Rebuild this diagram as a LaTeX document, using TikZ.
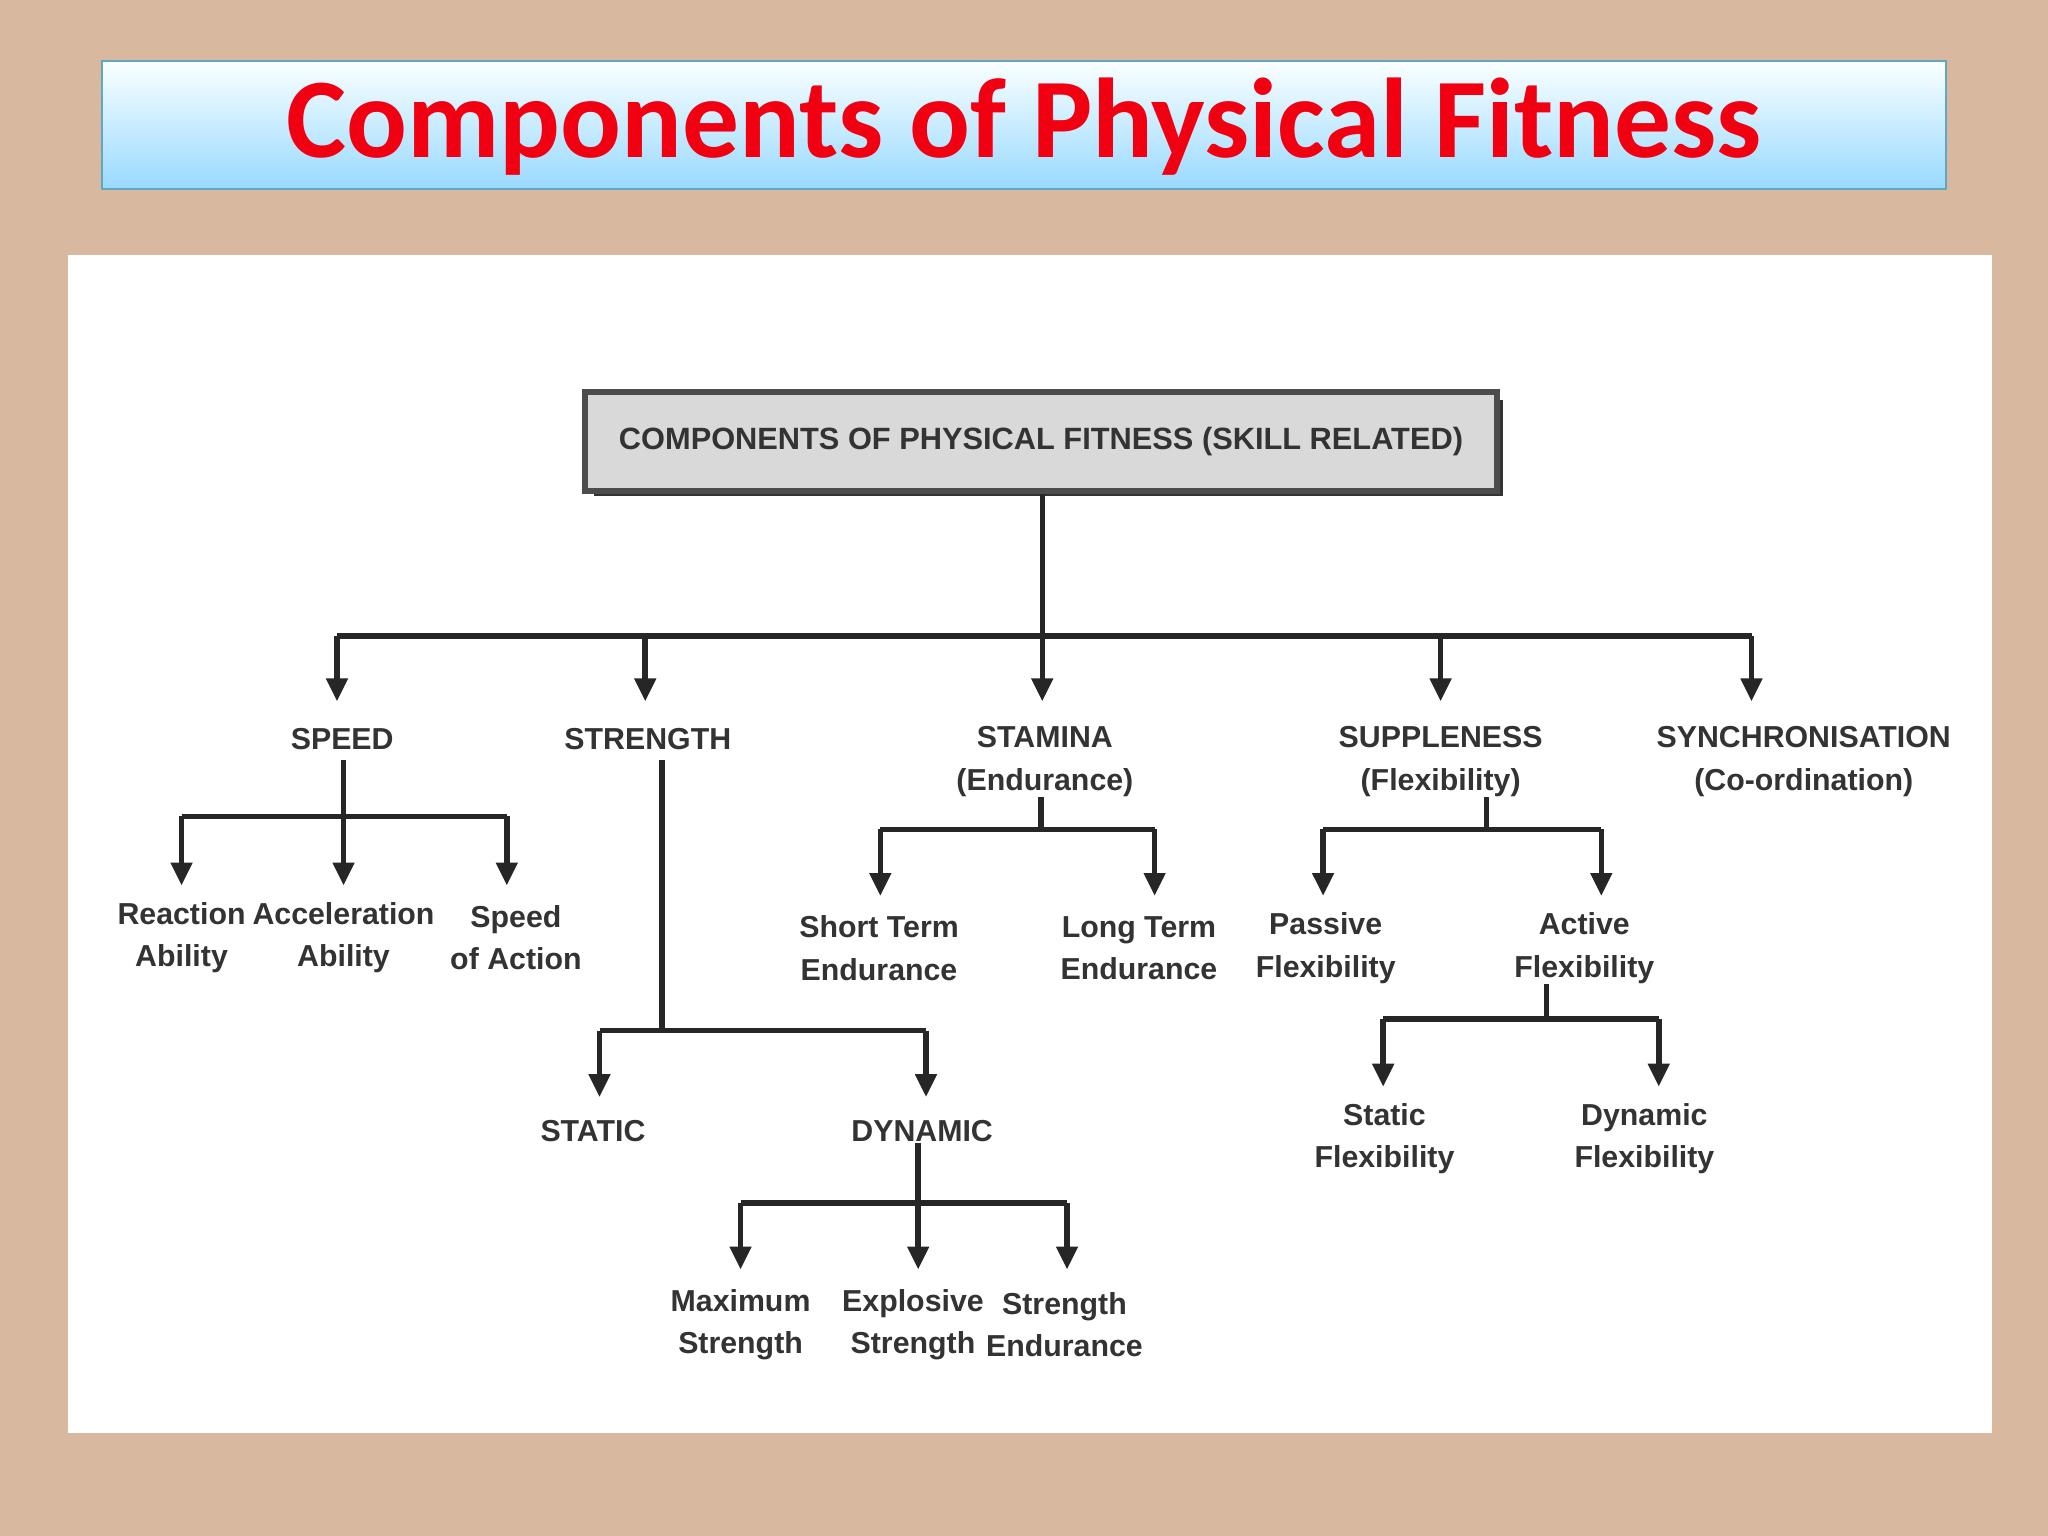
\documentclass[tikz,border=0pt]{standalone}
\usepackage{fontspec}
\setmainfont{Liberation Sans}
\newfontfamily\titlefont{Carlito}
\usetikzlibrary{arrows.meta,shadows}
\definecolor{bgtan}{HTML}{D8B89E}
\definecolor{titlered}{HTML}{F00010}
\tikzset{
 arr/.style={-{Triangle[length=5pt,width=4.5pt]},line width=1.2pt,black!85},
 ln/.style={line width=1.2pt,black!85},
 lab/.style={font=\fontsize{6.6}{9.2}\selectfont\bfseries,align=center,text=black!80,inner sep=0pt},
}
\begin{document}
\begin{tikzpicture}[x=0.01cm,y=-0.01cm]
\fill[bgtan] (0,0) rectangle (1568,1176);
\useasboundingbox (0,0) rectangle (1568,1176);
\shade[top color=white!90!cyan!20,bottom color=cyan!30!white!85!blue,draw=cyan!50!gray] (78,47) rectangle (1490,145);
\node[font=\titlefont\fontsize{24.7}{28}\selectfont\bfseries,text=titlered] (title) at (784,97) {Components of Physical Fitness};
\fill[white] (52,195) rectangle (1525,1097);
% root
\fill[black!80] (455,306) rectangle (1151,380);
\draw[fill=black!15,line width=1.2pt,draw=black!70] (448,300) rectangle (1146,376);
\node[lab,font=\fontsize{6.7}{9}\selectfont\bfseries] (root) at (797,338) {COMPONENTS OF PHYSICAL FITNESS (SKILL RELATED)};
\coordinate (rootb) at (798,378);
\coordinate (bus) at (798,487);
\foreach \n/\x in {a1/258,a2/494,a3/798,a4/1103,a5/1341} \coordinate (\n) at (\x,537);
\draw[ln] (rootb) -- (bus);
\draw[ln] (258,487) coordinate (bl) -- (1341,487) coordinate (br);
\draw[arr] (bl) -- (a1);
\draw[arr] (494,487) -- (a2);
\draw[arr] (bus) -- (a3);
\draw[arr] (1103,487) -- (a4);
\draw[arr] (br) -- (a5);
\node[lab] (speed) at (262,566) {SPEED};
\node[lab] (strength) at (496,566) {STRENGTH};
\node[lab] (stamina) at (800,583) {STAMINA\\(Endurance)};
\node[lab] (supp) at (1103,583) {SUPPLENESS\\(Flexibility)};
\node[lab] (sync) at (1381,583) {SYNCHRONISATION\\(Co-ordination)};
% speed
\draw[ln] (263,582) -- (263,625);
\draw[ln] (139,625) -- (388,625);
\draw[arr] (139,625) -- (139,678);
\draw[arr] (263,625) -- (263,678);
\draw[arr] (388,625) -- (388,678);
\node[lab] (ra) at (139,718) {Reaction\\Ability};
\node[lab] (aa) at (263,718) {Acceleration\\Ability};
\node[lab] (sa) at (395,718) {Speed\\of Action};
% strength
\draw[ln] (507,582) -- (507,789);
\draw[ln] (459,789) -- (709,789);
\draw[arr] (459,789) -- (459,840);
\draw[arr] (709,789) -- (709,840);
\node[lab] (static) at (454,866) {STATIC};
\node[lab] (dyn) at (706,866) {DYNAMIC};
\draw[ln] (dyn.south -| 703,0) -- (703,921);
\draw[ln] (567,921) -- (817,921);
\draw[arr] (567,921) -- (567,972);
\draw[arr] (703,921) -- (703,972);
\draw[arr] (817,921) -- (817,972);
\node[lab] (ms) at (567,1014) {Maximum\\Strength};
\node[lab] (es) at (699,1014) {Explosive\\Strength};
\node[lab] (se) at (815,1014) {Strength\\Endurance};
% stamina
\draw[ln] (stamina.south -| 797,0) -- (797,635);
\draw[ln] (674,635) -- (884,635);
\draw[arr] (674,635) -- (674,686);
\draw[arr] (884,635) -- (884,686);
\node[lab] (ste) at (673,726) {Short Term\\Endurance};
\node[lab] (lte) at (872,726) {Long Term\\Endurance};
% suppleness
\draw[ln] (supp.south -| 1138,0) -- (1138,635);
\draw[ln] (1013,635) -- (1226,635);
\draw[arr] (1013,635) -- (1013,686);
\draw[arr] (1226,635) -- (1226,686);
\node[lab] (pf) at (1015,726) {Passive\\Flexibility};
\node[lab] (af) at (1213,726) {Active\\Flexibility};
\draw[ln] (af.south -| 1184,0) -- (1184,780);
\draw[ln] (1059,780) -- (1270,780);
\draw[arr] (1059,780) -- (1059,832);
\draw[arr] (1270,780) -- (1270,832);
\node[lab] (sf) at (1060,872) {Static\\Flexibility};
\node[lab] (df) at (1259,872) {Dynamic\\Flexibility};
\end{tikzpicture}
\end{document}
